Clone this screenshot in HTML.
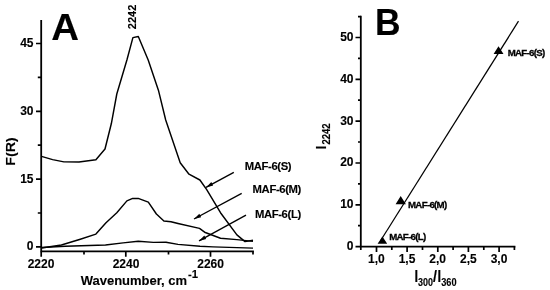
<!DOCTYPE html>
<html><head><meta charset="utf-8"><title>Figure</title>
<style>
html,body{margin:0;padding:0;background:#fff;}
body{width:550px;height:290px;overflow:hidden;}
svg{display:block;}
text{font-family:"Liberation Sans",Arial,sans-serif;font-weight:bold;fill:#000;stroke:#000;stroke-width:0.12;}
.ax{stroke:#000;stroke-width:1.8;fill:none;stroke-linecap:square;}
.tk{stroke:#000;stroke-width:1.7;fill:none;}
.cv{stroke:#000;stroke-width:1.45;fill:none;stroke-linejoin:round;}
.sm text{stroke-width:0.28;}
.ar{stroke:#000;stroke-width:1.35;fill:none;}
</style></head>
<body>
<svg width="550" height="290" viewBox="0 0 550 290">
<rect width="550" height="290" fill="#fff"/>

<!-- Panel A axes -->
<path class="ax" d="M41.2 20.9V251.4H253"/>
<path class="tk" d="M36 43.5H41.2M36 111.3H41.2M36 179.1H41.2M36 246.9H41.2M37.8 77.4H41.2M37.8 145.2H41.2M37.8 213H41.2"/>
<path class="tk" d="M41.2 251.4V256.8M125.8 251.4V256.8M210.5 251.4V256.8M84 251.4V254.4M168.5 251.4V254.4M253 251.4V254.4"/>
<text x="33.5" y="46.8" font-size="12" text-anchor="end">45</text>
<text x="33.5" y="114.8" font-size="12" text-anchor="end">30</text>
<text x="33.5" y="182.5" font-size="12" text-anchor="end">15</text>
<text x="33.5" y="249.9" font-size="12" text-anchor="end">0</text>
<text x="41" y="268.3" font-size="12" text-anchor="middle">2220</text>
<text x="126" y="268.3" font-size="12" text-anchor="middle">2240</text>
<text x="210.6" y="268.3" font-size="12" text-anchor="middle">2260</text>
<text x="80.7" y="284.7" font-size="13">Wavenumber, cm</text>
<text x="188" y="277.5" font-size="11.3">-1</text>
<text transform="translate(14.5 165.8) rotate(-90) scale(1.06 1)" font-size="13.5">F(R)</text>
<text transform="translate(51.3 39.6) scale(1.067 1.01)" font-size="36">A</text>
<text transform="translate(136.2 29.2) rotate(-90)" font-size="11">2242</text>

<!-- curves -->
<path class="cv" d="M41.5 156.4L52.6 159.6L63.9 161.9L79 162L95.9 159.8L105 149L111.3 123.8L116.8 94L126.9 60L132.9 37.6L138.3 36.5L148.2 60L158.4 90.2L165.7 120L180.2 162.8L189 174.2L199.9 180L206.7 189.7L220.5 212.7L236.9 234.9L245 241.6L253 240.2"/>
<path class="cv" d="M41.5 248L61.4 245L80.3 239.2L95.9 234.1L106 222.8L116.8 212.7L126.9 200.9L132.7 198.4L138.2 198.4L148.3 202.1L156.4 214L163.9 221L171 221.8L178 223.5L199.5 228.4L204.6 232.2L220.5 238.3L236.9 239.6L253 241.4"/>
<path class="cv" d="M41.5 247.5L65.2 246.2L105.5 245L123.1 242.9L138.2 241.2L153.4 242.4L166 242.2L178 244.4L200 246.3L213 246.9L253 248.1"/>

<!-- arrows -->
<g class="ar">
<path d="M233.8 172.3L206 187.4"/>
<path d="M241.7 193.4L194 219"/>
<path d="M246 215.2L199 240.9"/>
</g>
<path d="M206 187.4L211.3 182.1L213.2 185.6Z M194 219L199.3 213.7L201.2 217.2Z M199 240.9L204.3 235.6L206.2 239.1Z" fill="#000"/>
<text x="244.7" y="170.3" font-size="11.3" letter-spacing="-0.38">MAF-6(S)</text>
<text x="252.6" y="192.9" font-size="11.3" letter-spacing="-0.38">MAF-6(M)</text>
<text x="254.9" y="217.7" font-size="11.3" letter-spacing="-0.38">MAF-6(L)</text>

<!-- Panel B axes -->
<path class="ax" d="M360.8 16.6V246.6H514.5"/>
<path class="tk" d="M360.8 246.6V250"/>
<path class="tk" d="M355.5 37.5H360.8M355.5 79.3H360.8M355.5 121.1H360.8M355.5 163.0H360.8M355.5 204.8H360.8M355.5 246.6H360.8M358 16.6H360.8M358 58.4H360.8M358 100.2H360.8M358 142.0H360.8M358 183.9H360.8M358 225.7H360.8"/>
<path class="tk" d="M376.5 246.6V252M407.1 246.6V252M437.8 246.6V252M468.4 246.6V252M499.1 246.6V252M391.8 246.6V250M422.5 246.6V250M453.1 246.6V250M483.8 246.6V250M514.4 246.6V250"/>
<text x="353.5" y="40.9" font-size="12" text-anchor="end">50</text>
<text x="353.5" y="82.7" font-size="12" text-anchor="end">40</text>
<text x="353.5" y="124.5" font-size="12" text-anchor="end">30</text>
<text x="353.5" y="166.4" font-size="12" text-anchor="end">20</text>
<text x="353.5" y="208.2" font-size="12" text-anchor="end">10</text>
<text x="353.5" y="250.0" font-size="12" text-anchor="end">0</text>
<text x="376.4" y="262.8" font-size="12" text-anchor="middle">1,0</text>
<text x="407.0" y="262.8" font-size="12" text-anchor="middle">1,5</text>
<text x="437.7" y="262.8" font-size="12" text-anchor="middle">2,0</text>
<text x="468.3" y="262.8" font-size="12" text-anchor="middle">2,5</text>
<text x="499.0" y="262.8" font-size="12" text-anchor="middle">3,0</text>
<g font-size="13">
<text transform="translate(414.47 282.45) scale(1 1.2)">I</text>
<text transform="translate(417.97 285.97) scale(0.943 1.16)" font-size="9.5">300</text>
<text transform="translate(432.9 282.45) scale(1.1 1.2)">/</text>
<text transform="translate(437.54 282.45) scale(1 1.2)">I</text>
<text transform="translate(441.15 285.97) scale(0.97 1.16)" font-size="9.5">360</text>
</g>
<g transform="translate(326.1 149.2) rotate(-90)">
<text transform="scale(1 1.08)" font-size="13">I</text>
<text transform="translate(4.6 4.12) scale(1 1.17)" font-size="9.5">2242</text>
</g>
<text transform="translate(374.9 35.3) scale(1 1.05)" font-size="35.4">B</text>

<path d="M381 240L518.5 21.2" stroke="#000" stroke-width="1.25" fill="none"/>
<path d="M382.4 236.5L387.2 243.8H377.6Z M400.7 196.1L405.9 204.3H395.6Z M498.5 46.3L503.5 53.9H493.6Z" fill="#000"/>
<g class="sm" font-size="9.7" letter-spacing="-0.7">
<text x="389.2" y="240.3">MAF-6(L)</text>
<text x="408" y="208">MAF-6(M)</text>
<text x="507.7" y="56.1">MAF-6(S)</text>
</g>
</svg>
</body></html>
